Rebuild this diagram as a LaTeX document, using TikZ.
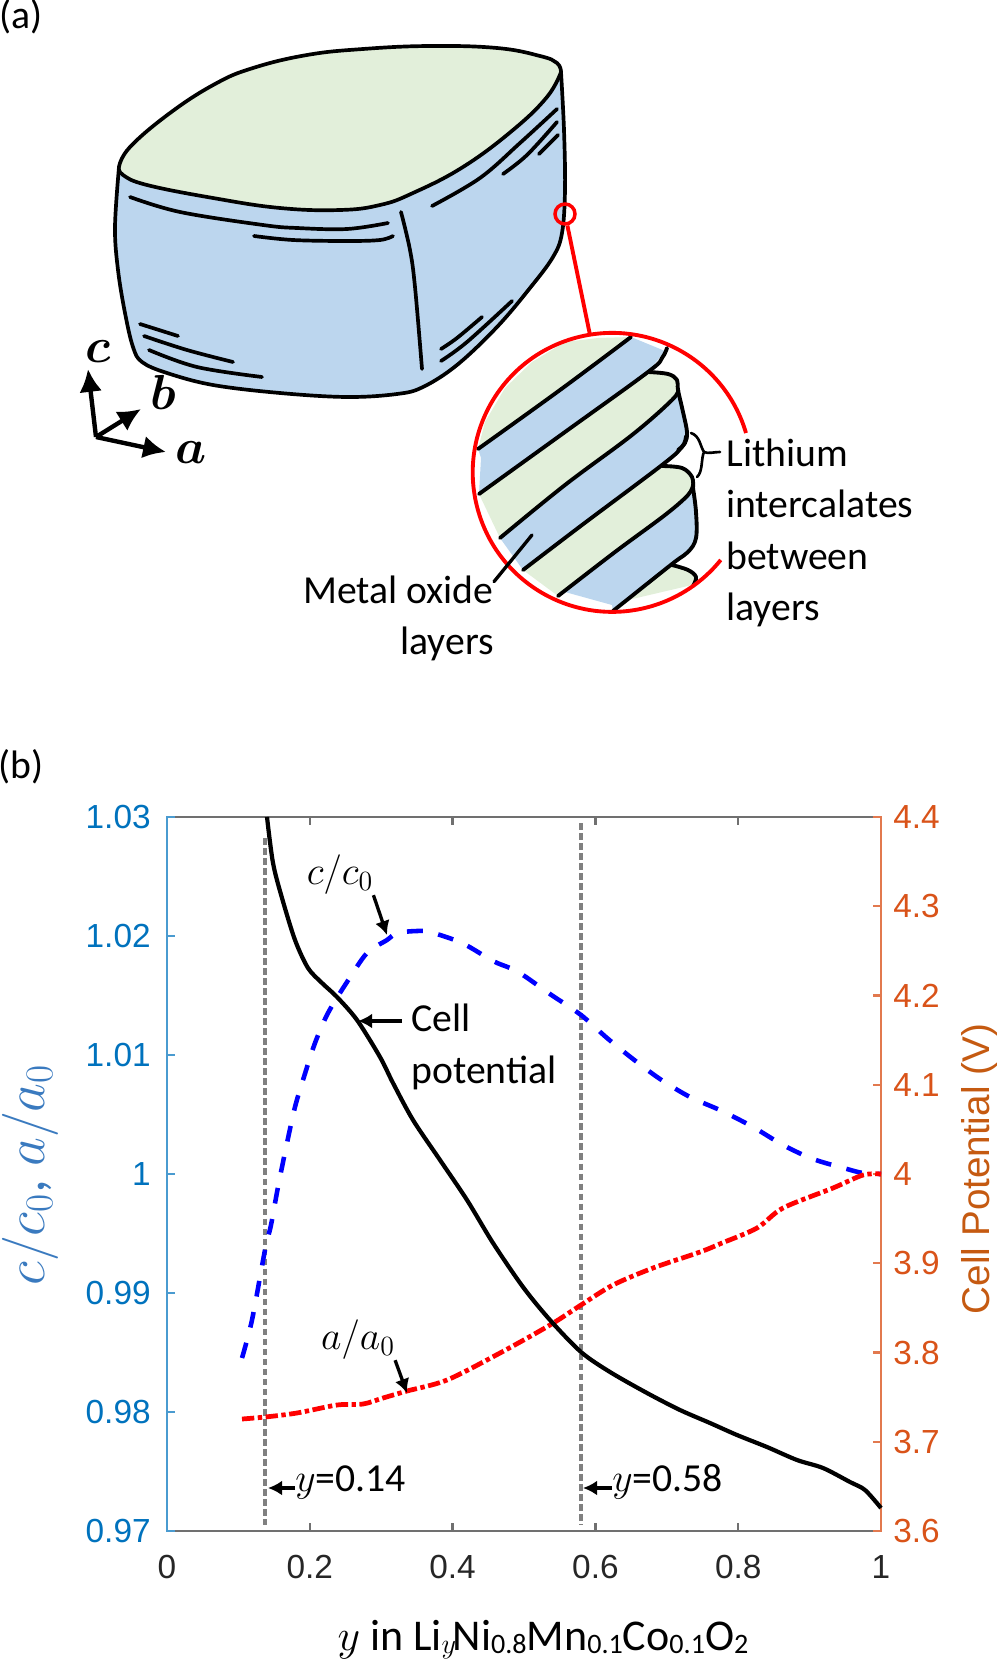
\documentclass[tikz,border=0pt]{standalone}
\usepackage{fix-cm}
\usepackage{amsmath}
\usepackage{fontspec}
\setmainfont{Carlito}
\newfontfamily\axisfont{Liberation Sans}
\usetikzlibrary{arrows.meta}
\definecolor{faceTop}{HTML}{E2EFDA}
\definecolor{faceSide}{HTML}{BCD6EE}
\definecolor{axisLeft}{HTML}{0072BD}
\definecolor{axisLeftLine}{HTML}{4A9BD0}
\definecolor{axisRight}{HTML}{D95319}
\definecolor{axisRightLine}{HTML}{E2794E}
\definecolor{axisGray}{HTML}{707070}
\definecolor{labelLeft}{HTML}{3A7ABF}
\definecolor{labelRight}{HTML}{C55A11}
\newcommand{\lsub}[1]{\raisebox{-2pt}{\fontsize{16}{18}\selectfont #1}}
\tikzstyle{crystal_line}=[line width=2.1pt, black, line cap=round, line join=round]
\tikzstyle{lens_line}=[line width=2.2pt, black, line cap=round, line join=round]
\tikzstyle{red_line}=[line width=2.2pt, red]
\tikzstyle{note}=[inner sep=0pt, font=\fontsize{22.6}{26}\selectfont]
\tikzstyle{tick_left}=[inner sep=0pt, anchor=east, text=axisLeft, font=\axisfont\fontsize{19}{22}\selectfont]
\tikzstyle{tick_right}=[inner sep=0pt, anchor=west, text=axisRight, font=\axisfont\fontsize{19}{22}\selectfont]
\tikzstyle{tick_bottom}=[inner sep=0pt, text=black!85, font=\axisfont\fontsize{19}{22}\selectfont]
\tikzstyle{triad_arrow}=[line width=2.5pt, -{Latex[length=13pt,width=13pt]}]
\tikzstyle{note_arrow}=[line width=1.9pt, -{Latex[length=8pt,width=8.5pt]}]
\tikzstyle{triad_label}=[inner sep=0pt, font=\fontsize{28}{32}\selectfont]

\begin{document}
\begin{tikzpicture}[x=0.02cm, y=-0.02cm]
    \useasboundingbox (0,0) rectangle (1000,1659);

    \node at (21,17) (panelA) [note] {(a)};
    \node at (21,767) (panelB) [note] {(b)};

    % crystal
    \filldraw[crystal_line, fill=faceSide] plot[smooth, tension=0.6] coordinates {(119,167) (115,227) (118,270) (125,313) (133,347) (142,362) (167,373) (213,385) (280,393) (347,397) (397,394) (423,387) (457,365) (497,327) (530,288) (553,257) (562,233) (565,190) (564,130) (561,72)} -- cycle;
    \filldraw[crystal_line, fill=faceTop] plot[smooth, tension=0.7] coordinates {(119,167) (130,147) (170,113) (215,84) (253,68) (307,55) (363,49) (430,46) (497,48) (540,56) (557,63) (561,72)} -- plot[smooth, tension=0.7] coordinates {(561,72) (547,97) (513,130) (463,167) (413,193) (380,205) (340,210) (280,208) (213,198) (147,185) (123,175) (119,167)} -- cycle;
    \foreach \lc in {
        {(130,197) (180,212) (263,225) (297,228) (347,229) (388,223)},
        {(254,236) (293,240) (347,241) (380,240) (393,236)},
        {(401,212) (410,250) (415,287) (422,369)},
        {(432,206) (480,178) (520,143) (557,109)},
        {(503,174) (527,155) (557,122)},
        {(539,154) (558,135)},
        {(441,349) (457,338) (482,317)},
        {(441,361) (467,342) (512,301)},
        {(140,324) (178,336)},
        {(144,336) (187,350) (233,362)},
        {(149,350) (197,367) (262,377)}} {
        \edef\lp{\noexpand\draw[crystal_line] plot[smooth, tension=0.6] coordinates {\lc};}
        \lp
    }

    % axes of the crystal
    \coordinate (triadO) at (96,437);
    \node at (98,352) (triadC) [triad_label] {$\boldsymbol{c}$};
    \node at (163,392) (triadB) [triad_label] {$\boldsymbol{b}$};
    \node at (191,453) (triadA) [triad_label] {$\boldsymbol{a}$};
    \coordinate (tipC) at (88,369);
    \coordinate (tipB) at (141,409);
    \coordinate (tipA) at (166,452);
    \draw[triad_arrow] (triadO) -- (tipC);
    \draw[triad_arrow] (triadO) -- (tipB);
    \draw[triad_arrow] (triadO) -- (tipA);

    % magnified layers
    \fill[faceTop] (478,449) -- (485,422) -- (505,388) -- (532,362) -- (565,342) -- (598,338) -- (631,337) -- cycle;
    \fill[faceSide] (478,449) -- (631,337) -- (665,351) -- (648,372) -- (565,432) -- (479,494) -- (481,458) -- cycle;
    \fill[faceTop] (479,494) -- (565,432) -- (648,372) -- (668,374) -- (677,380) -- (678,390) -- (672,400) -- (632,435) -- (565,485) -- (500,538) -- cycle;
    \fill[faceSide] (500,538) -- (565,485) -- (632,435) -- (672,400) -- (678,390) -- (683,412) -- (687,432) -- (685,443) -- (678,450) -- (662,465) -- (582,525) -- (523,570) -- cycle;
    \fill[faceTop] (523,570) -- (582,525) -- (662,465) -- (682,468) -- (692,477) -- (693,485) -- (688,495) -- (665,515) -- (615,552) -- (558,596) -- cycle;
    \fill[faceSide] (558,596) -- (615,552) -- (665,515) -- (688,495) -- (693,488) -- (696,512) -- (696,538) -- (688,552) -- (672,564) -- (613,611) -- (612,605) -- (565,592) -- cycle;
    \fill[faceTop] (613,611) -- (628,600) -- (692,585) -- (696,577) -- (688,570) -- (672,565) -- cycle;
    \foreach \lc in {
        {(478,449) (560,390) (631,337)},
        {(479,494) (565,432) (648,372) (662,358) (667,348)},
        {(500,538) (565,485) (632,435) (672,400) (678,390)},
        {(523,570) (582,525) (662,465) (682,447) (686,436)},
        {(558,596) (615,552) (665,515) (688,495) (693,485)},
        {(613,611) (672,564) (688,552) (696,538) (696,512) (693,488)},
        {(648,372) (668,374) (677,380) (678,390) (683,412) (687,432) (685,443) (678,450)},
        {(662,466) (682,468) (692,477) (693,488)},
        {(672,565) (688,570) (696,577) (693,586)}} {
        \edef\lp{\noexpand\draw[lens_line] plot[smooth, tension=0.6] coordinates {\lc};}
        \lp
    }
    \draw[red_line] (746,433) arc (16.4:321.1:2.79cm);
    \node at (565,214) (spot) [circle, draw=red, line width=2pt, minimum size=0.4cm, inner sep=0pt] {};
    \coordinate (lensTop) at (590,335);
    \draw[red_line] (spot) -- (lensTop);

    \node at (726,533) (lithiumLabel) [note, anchor=west, align=left, font=\fontsize{22.6}{29.3}\selectfont] {Lithium\\intercalates\\between\\layers};
    \node at (494,590) (metalLabel) [note, anchor=east] {Metal oxide};
    \node at (494,644) (metalLabelB) [note, anchor=east] {layers};
    \coordinate (metalTip) at (532,535);
    \draw[line width=1.9pt, line cap=round] (metalLabel.5) -- (metalTip);
    \coordinate (braceTip) at (720,452);
    \draw[line width=1.5pt, line cap=round] (691,433) .. controls (700,436) and (700,446) .. (704,452) .. controls (701,458) and (703,472) .. (697,477);
    \draw[line width=1.5pt, line cap=round] (704,452) .. controls (708,454) and (714,452) .. (braceTip);

    % plot frame
    \draw[line width=1.6pt, axisGray] (175,817) -- (873,817);
    \draw[line width=1.6pt, axisGray] (175,1531) -- (873,1531);
    \draw[line width=1.6pt, axisLeftLine] (167,816) -- (167,1532);
    \draw[line width=1.4pt, axisRightLine] (881,816) -- (881,1532);
    \foreach \la/\lb in {0/1.03, 1/1.02, 2/1.01, 3/1, 4/0.99, 5/0.98, 6/0.97} {
        \draw[line width=1.4pt, axisLeftLine] (167,817+119*\la) -- (175,817+119*\la);
        \node at (151,817+119*\la) (left\la) [tick_left] {\lb};
    }
    \foreach \la/\lb in {0/4.4, 1/4.3, 2/4.2, 3/4.1, 4/4, 5/3.9, 6/3.8, 7/3.7, 8/3.6} {
        \draw[line width=1.3pt, axisRightLine] (873,817+89.25*\la) -- (881,817+89.25*\la);
        \node at (893,817+89.25*\la) (right\la) [tick_right] {\lb};
    }
    \foreach \la/\lb in {0/0, 1/0.2, 2/0.4, 3/0.6, 4/0.8, 5/1} {
        \node at (167+142.8*\la,1567) (bottom\la) [tick_bottom] {\lb};
    }
    \foreach \la in {1,...,4} {
        \draw[line width=1.4pt, axisGray] (167+142.8*\la,817) -- (167+142.8*\la,825);
        \draw[line width=1.4pt, axisGray] (167+142.8*\la,1531) -- (167+142.8*\la,1523);
    }

    % markers and curves
    \draw[line width=1.8pt, black!50, dash pattern=on 3.8pt off 1.9pt] (265,838) -- (265,1525);
    \draw[line width=1.8pt, black!50, dash pattern=on 3.8pt off 1.9pt] (581,823) -- (581,1525);
    \draw[line width=2.6pt, blue, dash pattern=on 9pt off 9pt] plot[smooth, tension=0.5] coordinates {(242,1358) (252,1320) (265,1250) (271,1225) (278,1187) (287,1143) (295,1107) (303,1080) (315,1043) (328,1013) (347,982) (367,953) (387,940) (397,933) (417,931) (430,932) (462,943) (493,961) (510,968) (523,975) (550,994) (581,1015) (607,1038) (633,1059) (660,1079) (690,1097) (722,1111) (753,1127) (783,1145) (813,1159) (847,1169) (863,1173) (881,1174)};
    \draw[line width=2.7pt, red, dash pattern=on 7pt off 2pt on 2.5pt off 2pt] plot[smooth, tension=0.5] coordinates {(242,1419) (265,1417) (297,1413) (337,1405) (363,1404) (383,1398) (407,1391) (447,1380) (500,1353) (550,1325) (581,1305) (613,1285) (653,1268) (700,1252) (722,1243) (757,1228) (783,1208) (833,1188) (863,1175) (881,1174)};
    \draw[line width=2.4pt, black] plot[smooth, tension=0.5] coordinates {(267,817) (273,863) (282,898) (295,940) (308,968) (322,983) (337,997) (357,1020) (380,1057) (393,1083) (413,1120) (440,1160) (467,1200) (493,1243) (523,1287) (550,1320) (581,1352) (610,1372) (647,1393) (680,1410) (710,1423) (737,1435) (767,1447) (797,1460) (823,1468) (850,1482) (865,1490) (881,1508)};

    % curve labels
    \node at (340,875) (cLabel) [note] {$c/c_0$};
    \node at (358,1340) (aLabel) [note] {$a/a_0$};
    \node at (411,1018) (cellLabel) [note, anchor=west] {Cell};
    \node at (411,1073) (cellLabelB) [note, anchor=west] {potential};
    \node at (295,1482) (markerA) [note, anchor=west] {$y$=0.14};
    \node at (612,1482) (markerB) [note, anchor=west] {$y$=0.58};
    \coordinate (cTip) at (387,935);
    \coordinate (aTip) at (407,1393);
    \coordinate (cellTip) at (358,1021);
    \coordinate (markerTipA) at (268,1488);
    \coordinate (markerTipB) at (583,1488);
    \draw[note_arrow] (cLabel.south east) -- (cTip);
    \draw[note_arrow] (aLabel.south east) -- (aTip);
    \draw[note_arrow] (cellLabel.west) ++(-9,3) -- (cellTip);
    \draw[note_arrow] (markerA.west) ++(0,6) -- (markerTipA);
    \draw[note_arrow] (markerB.west) ++(0,6) -- (markerTipB);

    % axis titles
    \node at (30,1175) (leftTitle) [inner sep=0pt, rotate=90, text=labelLeft, font=\fontsize{32}{36}\selectfont] {$c/c_0$, $a/a_0$};
    \node at (979,1169) (rightTitle) [inner sep=0pt, rotate=90, text=labelRight, font=\axisfont\fontsize{22}{26}\selectfont] {Cell Potential (V)};
    \node at (543,1650) (bottomTitle) [inner sep=0pt, anchor=base, font=\fontsize{25}{28}\selectfont] {$y$ in Li\lsub{$y$}\kern-2pt Ni\lsub{0.8}Mn\lsub{0.1}Co\lsub{0.1}O\lsub{2}};
\end{tikzpicture}
\end{document}
